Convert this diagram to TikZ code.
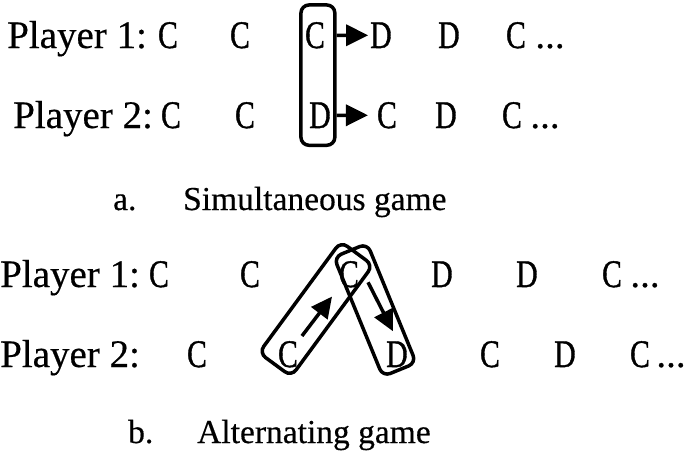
\documentclass[tikz,border=0pt]{standalone}
\usepackage{fontspec}
\setmainfont{Liberation Serif}[FakeBold=0.4]
\newfontfamily\movefamily{Liberation Serif}[FakeBold=1.1]
\usetikzlibrary{arrows.meta,fit}

\newcommand{\rowfont}{\fontsize{39}{41}\selectfont}
\newcommand{\movefont}{\movefamily\fontsize{39}{41}\selectfont}
\newcommand{\capfont}{\fontsize{33.5}{36}\selectfont}

\begin{document}
\begin{tikzpicture}[x=1pt, y=-1pt,
    who/.style={font=\rowfont, inner sep=0pt, anchor=base west},
    move/.style={font=\movefont, inner sep=0pt, anchor=base, xscale=0.76},
    moredots/.style={font=\rowfont, inner sep=0pt, anchor=base},
    caption/.style={font=\capfont, inner sep=0pt, anchor=base west},
    pickbox/.style={draw, line width=3.5pt, rounded corners=8pt, inner sep=0pt},
    movearrow/.style={line width=3.5pt, -{Triangle[length=22pt, width=21pt]}},
    turnarrow/.style={line width=3.5pt, -{Triangle[length=21pt, width=20pt]}}]
  \useasboundingbox (0,0) rectangle (685,451);

  % a. simultaneous game
  \node[who] (pa1) at (7,48) {Player 1:};
  \node[move] (a11) at (168,48) {C};
  \node[move] (a12) at (240,48) {C};
  \node[move] (a13) at (315,48) {C};
  \node[move] (a14) at (381,48) {D};
  \node[move] (a15) at (449,48) {D};
  \node[move] (a16) at (516,48) {C};
  \node[moredots] (a1d) at (550,48) {...};

  \node[who] (pa2) at (13,128) {Player 2:};
  \node[move] (a21) at (171,128) {C};
  \node[move] (a22) at (245,128) {C};
  \node[move] (a23) at (320,128) {D};
  \node[move] (a24) at (387,128) {C};
  \node[move] (a25) at (446,128) {D};
  \node[move] (a26) at (512,128) {C};
  \node[moredots] (a2d) at (545,128) {...};

  \node[pickbox, fit=(a13)(a23), inner xsep=4pt, inner ysep=17pt] (abox) {};
  \draw[movearrow, shorten >=2pt] (abox.east |- a13.center) -- (a14.west);
  \draw[movearrow, shorten >=9pt] (abox.east |- a23.center) -- (a24.west);

  \node[caption] (acap) at (113,210) {a.};
  \node[caption] (aname) at (183,210) {Simultaneous game};

  % b. alternating game
  \node[who] (pb1) at (0,287) {Player 1:};
  \node[move] (b11) at (159,287) {C};
  \node[move] (b12) at (250,287) {C};
  \node[move] (b13) at (349,287) {C};
  \node[move] (b14) at (442,287) {D};
  \node[move] (b15) at (527,287) {D};
  \node[move] (b16) at (612,287) {C};
  \node[moredots] (b1d) at (645,287) {...};

  \node[who] (pb2) at (0,367) {Player 2:};
  \node[move] (b21) at (197,367) {C};
  \node[move] (b22) at (288,367) {C};
  \node[move] (b23) at (397,367) {D};
  \node[move] (b24) at (490,367) {C};
  \node[move] (b25) at (565,367) {D};
  \node[move] (b26) at (640,367) {C};
  \node[moredots] (b2d) at (671,367) {...};

  \node[pickbox, minimum width=138pt, minimum height=40pt, rotate=53.7] (bbox1) at (316,309) {};
  \node[pickbox, minimum width=129pt, minimum height=36pt, rotate=-67.7] (bbox2) at (375,310) {};
  \draw[turnarrow, shorten <=23pt, shorten >=28pt] (b22.center) -- (b13.center);
  \draw[turnarrow] ([shift={(9,8)}]b13.east) -- ([shift={(-4,-10)}]b23.north);

  \node[caption] (bcap) at (128,443) {b.};
  \node[caption] (bname) at (197,443) {Alternating game};
\end{tikzpicture}
\end{document}
